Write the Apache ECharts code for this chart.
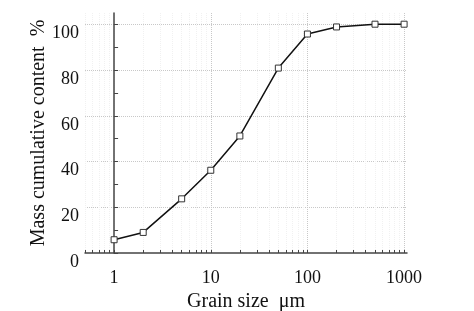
<!DOCTYPE html>
<html>
<head>
<meta charset="utf-8">
<script src="https://cdn.jsdelivr.net/npm/echarts@6/dist/echarts.min.js"></script>
<style>html,body{margin:0;padding:0;background:#fff}#c{width:474px;height:311px}</style>
</head>
<body>
<div id="c"></div>
<script>
// Data
var grainSize = [1, 2, 5, 10, 20, 50, 100, 200, 500, 1000];          // µm
var massCumulative = [5.8, 9.0, 23.7, 36.2, 51.2, 80.9, 95.8, 98.9, 100.1, 100.1]; // %
var xLabelDecades = [1, 10, 100, 1000];
var yLabels = [0, 20, 40, 60, 80, 100];
var yTicks = [0, 10, 20, 30, 40, 50, 60, 70, 80, 90, 100];
var yGrid = [20, 40, 60, 80, 100];

var LOG = function (v) { return Math.log10(v); };
var xMin = LOG(0.5), xMax = 3.03;
// minor/major tick positions on the log axis (1..9 × decade)
var xTickVals = [];
[0.1, 1, 10, 100].forEach(function (d) {
  for (var k = 1; k <= 9; k++) {
    var v = LOG(k * d);
    if (v >= xMin - 1e-9 && v <= xMax + 1e-9) xTickVals.push(v);
  }
});
xTickVals.push(3);

var font = 'Liberation Serif';
var seriesData = grainSize.map(function (g, i) { return [LOG(g), massCumulative[i]]; });

var chart = echarts.init(document.getElementById('c'), null, {renderer: 'canvas'});
chart.setOption({
  animation: false,
  backgroundColor: '#fff',
  grid: {left: 85, right: 67, top: 13, bottom: 58, containLabel: false, outerBoundsMode: 'none'},
  xAxis: [{
    type: 'value', min: xMin, max: xMax,
    name: 'Grain size  \u03bcm', nameLocation: 'middle', nameGap: 32,
    nameTextStyle: {fontFamily: font, fontSize: 20, color: '#111'},
    axisLine: {show: true, lineStyle: {color: '#444', width: 1.5}},
    axisTick: {show: true, inside: true, length: 3, customValues: xTickVals, lineStyle: {color: '#444', width: 1}},
    axisLabel: {customValues: xLabelDecades.map(LOG), margin: 16, fontFamily: font, fontSize: 18, color: '#111',
      formatter: function (v) { return String(Math.round(Math.pow(10, v))); }},
    splitLine: {show: true, lineStyle: {color: '#f1f1f1', type: 'dotted', width: 1}}
  }, {
    type: 'value', min: xMin, max: xMax, position: 'top',
    axisLine: {show: false}, axisLabel: {show: false},
    axisTick: {show: false, customValues: [1, 2, 3]},
    splitLine: {show: true, lineStyle: {color: '#c8c8c8', type: 'dotted', width: 1}}
  }],
  yAxis: [{
    type: 'value', min: 0, max: 105,
    name: 'Mass cumulative content  %', nameLocation: 'middle', nameGap: 36, nameMoveOverlap: false,
    nameTextStyle: {fontFamily: font, fontSize: 20, color: '#111'},
    axisLine: {show: true, lineStyle: {color: '#444', width: 1.5}},
    axisTick: {show: true, inside: true, length: 4, customValues: yTicks, lineStyle: {color: '#444', width: 1}},
    axisLabel: {customValues: yLabels, margin: 6, fontFamily: font, fontSize: 18, color: '#111', verticalAlign: 'top'},
    splitLine: {show: false}
  }, {
    type: 'value', min: 0, max: 105, position: 'right',
    axisLine: {show: false}, axisLabel: {show: false},
    axisTick: {show: false, customValues: yGrid},
    splitLine: {show: true, lineStyle: {color: '#c8c8c8', type: 'dotted', width: 1}}
  }],
  series: [{
    type: 'line', xAxisIndex: 0, yAxisIndex: 0,
    data: seriesData,
    symbol: 'rect', symbolSize: 6, showSymbol: true,
    lineStyle: {color: '#111', width: 1.5},
    itemStyle: {color: '#fff', borderColor: '#333', borderWidth: 1}
  }]
});
</script>
</body>
</html>
